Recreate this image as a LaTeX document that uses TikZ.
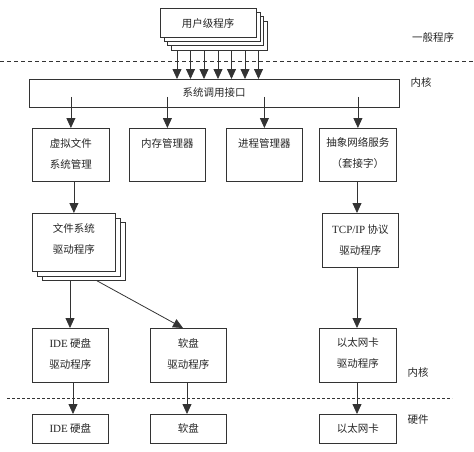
\documentclass[tikz,border=0pt]{standalone}
\usepackage{fontspec}
\setmainfont{Liberation Serif}
\newfontfamily\cjk{Noto Sans CJK SC}
\usetikzlibrary{arrows.meta,calc}
\tikzset{
  box/.style={draw=black!80, line width=0.8pt, fill=white, rectangle, inner sep=0pt},
  txt/.style={font=\cjk\fontsize{10.5}{21}\selectfont, align=center, inner sep=0pt, text=black!85},
  lbl/.style={font=\cjk\fontsize{10.5}{12}\selectfont, inner sep=0pt, text=black!85},
  arr/.style={draw=black!80, line width=0.8pt, -{Triangle[width=9pt,length=10pt]}},
  dash1/.style={draw=black!80, line width=0.9pt, dash pattern=on 4pt off 3pt},
  dash2/.style={draw=black!80, line width=0.9pt, dash pattern=on 2.5pt off 2.5pt}
}
\newcommand{\lat}[1]{{\rmfamily\fontsize{11}{21}\selectfont #1}}
\newcommand{\boxat}[6]{% name, x1,y1,x2,y2, extra
  \node[box,#6, minimum width={(#4)-(#2)}, minimum height={(#5)-(#3)}, anchor=north west] (#1) at (#2,#3) {};}
\begin{document}
\begin{tikzpicture}[x=1pt,y=-1pt]
\useasboundingbox (0,0) rectangle (474,451);
% dashed separators
\coordinate (da) at (0,61); \coordinate (db) at (474,61);
\coordinate (dc) at (7,398); \coordinate (dd) at (452,398);
\draw[dash1] (da) -- (db);
\draw[dash2] (dc) -- (dd);
% side labels
\node[lbl] (l1) at (433,37) {一般程序};
\node[lbl] (l2) at (421,82) {内核};
\node[lbl] (l3) at (418,372) {内核};
\node[lbl] (l4) at (418,420) {硬件};
% user programs stack
\boxat{u3}{171.1}{20.6}{267.1}{49.6}{}
\boxat{u2}{167.4}{16.4}{263.4}{45.4}{}
\boxat{u1}{163.7}{12.2}{259.7}{41.2}{}
\boxat{u0}{160}{8}{256}{37}{}
\node[txt] (ut) at (208,24) {用户级程序};
% system call interface
\boxat{sc}{29}{79}{399}{107}{}
\node[txt] (sct) at (214,93) {系统调用接口};
\foreach \x in {177,190.5,204,218,231.5,245,258.5}
  \draw[arr] (\x,0 |- u3.south) -- (\x,0 |- sc.north);
% row 2
\boxat{b1}{32}{128}{109}{181}{}
\boxat{b2}{129}{128}{205}{181}{}
\boxat{b3}{226}{128}{302}{181}{}
\boxat{b4}{319}{128}{396}{181}{}
\node[txt] (b1t) at ([yshift=-25.5pt]b1.north) {虚拟文件\\系统管理};
\node[txt] (b2t) at ([yshift=-15pt]b2.north) {内存管理器};
\node[txt] (b3t) at ([yshift=-15pt]b3.north) {进程管理器};
\node[txt] (b4t) at ([yshift=-25.5pt]b4.north) {抽象网络服务\\（套接字）};
\foreach \b in {b1,b2,b3,b4}
  \draw[arr] ($(\b.north |- sc.south)+(0,-11)$) -- (\b.north);
% file system driver stack
\boxat{f2}{42}{222}{125}{280}{}
\boxat{f1}{37}{217.5}{120}{275.5}{}
\boxat{f0}{32}{213}{115}{271}{}
\node[txt] (ft) at ([yshift=-26pt]f0.north) {文件系统\\驱动程序};
\draw[arr] (b1.south -| f0.north) -- (f0.north);
% tcp/ip
\boxat{tc}{322}{213}{398}{267}{}
\node[txt] (tct) at ([yshift=-27pt]tc.north) {\lat{TCP/IP} 协议\\驱动程序};
\draw[arr] (b4.south -| 357,0) -- (357,0 |- tc.north);
% drivers
\boxat{d1}{32}{328}{108}{382}{}
\boxat{d2}{150}{328}{226}{382}{}
\boxat{d3}{319}{328}{396}{382}{}
\node[txt] (d1t) at ([yshift=-25.5pt]d1.north) {\lat{IDE} 硬盘\\驱动程序};
\node[txt] (d2t) at ([yshift=-25.5pt]d2.north) {软盘\\驱动程序};
\node[txt] (d3t) at ([yshift=-25.5pt]d3.north) {以太网卡\\驱动程序};
\draw[arr] (70,0 |- f2.south) -- (70,0 |- d1.north);
\draw[arr] (97,0 |- f2.south) -- (183,0 |- d2.north);
\draw[arr] (tc.south -| 357,0) -- (357,0 |- d3.north);
% hardware
\boxat{h1}{32}{414}{108}{443}{}
\boxat{h2}{150}{414}{226}{443}{}
\boxat{h3}{319}{414}{396}{443}{}
\node[txt] (h1t) at (h1.center) {\lat{IDE} 硬盘};
\node[txt] (h2t) at (h2.center) {软盘};
\node[txt] (h3t) at (h3.center) {以太网卡};
\draw[arr] (73,0 |- d1.south) -- (73,0 |- h1.north);
\draw[arr] (187,0 |- d2.south) -- (187,0 |- h2.north);
\draw[arr] (357,0 |- d3.south) -- (357,0 |- h3.north);
\end{tikzpicture}
\end{document}
